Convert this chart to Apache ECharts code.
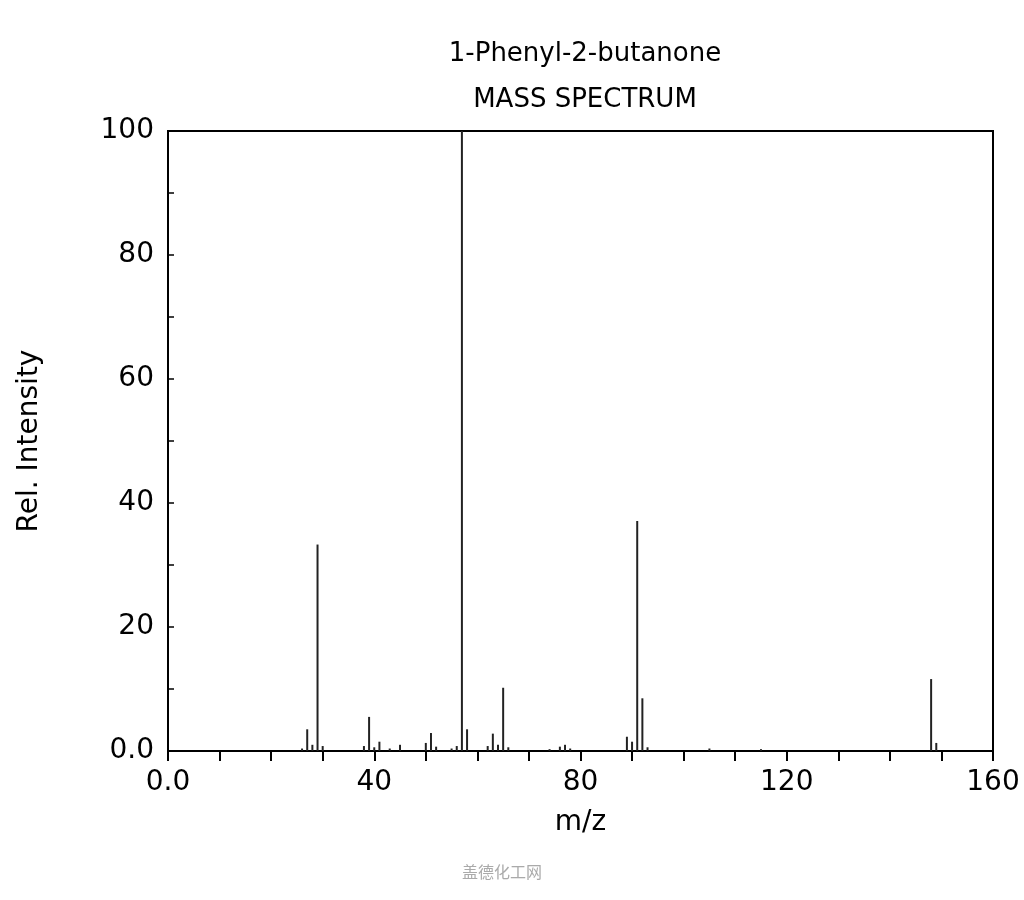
<!DOCTYPE html>
<html>
<head>
<meta charset="utf-8">
<script src="https://cdn.jsdelivr.net/npm/echarts@6/dist/echarts.min.js"></script>
<style>body{margin:0;background:#fff}#c{width:1024px;height:900px}</style>
</head>
<body>
<div id="c"></div>
<script>
var mz = [26, 27, 28, 29, 30, 38, 39, 40, 41, 43, 45, 50, 51, 52, 55, 56, 57, 58, 62, 63, 64, 65, 66, 74, 76, 77, 78, 89, 90, 91, 92, 93, 105, 115, 148, 149];
var intensity = [0.4, 3.5, 1.0, 33.3, 0.8, 0.8, 5.5, 0.6, 1.5, 0.4, 1.0, 1.3, 2.9, 0.7, 0.4, 0.8, 100, 3.5, 0.8, 2.8, 1.0, 10.2, 0.6, 0.3, 0.7, 1.0, 0.4, 2.3, 1.5, 37.1, 8.5, 0.6, 0.4, 0.3, 11.6, 1.3];
var xTicks = [0, 40, 80, 120, 160];

var myChart = echarts.init(document.getElementById('c'));
var pts = [];
for (var i = 0; i < mz.length; i++) pts.push([mz[i], intensity[i]]);

var option = {
    animation: false,
    title: {
        text: '1-Phenyl-2-butanone\nMASS SPECTRUM',
        left: 580, top: 26, textAlign: 'center',
        textStyle: { fontFamily: 'DejaVu Sans', fontWeight: 'normal', fontSize: 26, color: '#000', lineHeight: 46 }
    },
    grid: { left: 168, right: 31, top: 131, bottom: 149 },
    xAxis: {
        type: 'value', min: 0, max: 160, interval: 10,
        name: 'm/z', nameLocation: 'middle', nameGap: 58,
        nameTextStyle: { fontFamily: 'DejaVu Sans', fontSize: 28, color: '#000' },
        axisLine: { lineStyle: { color: '#000', width: 2 } },
        axisTick: { inside: false, length: 10, lineStyle: { color: '#000', width: 2 } },
        axisLabel: {
            fontFamily: 'DejaVu Sans', fontSize: 28, color: '#000', margin: 18,
            formatter: function (v) {
                if (xTicks.indexOf(v) < 0) return '';
                return v === 0 ? '0.0' : String(v);
            }
        },
        splitLine: { show: false }
    },
    yAxis: {
        type: 'value', min: 0, max: 100, interval: 10,
        name: 'Rel. Intensity', nameLocation: 'middle', nameGap: 124,
        nameTextStyle: { fontFamily: 'DejaVu Sans', fontSize: 28, color: '#000' },
        axisLine: { lineStyle: { color: '#000', width: 2 } },
        axisTick: { inside: true, length: 6, lineStyle: { color: '#000', width: 1.5 } },
        axisLabel: {
            fontFamily: 'DejaVu Sans', fontSize: 28, color: '#000', margin: 14,
            formatter: function (v) {
                if (v % 20 !== 0) return '';
                return v === 0 ? '0.0' : String(v);
            }
        },
        splitLine: { show: false }
    },
    graphic: [{
        type: 'rect', shape: { x: 168, y: 131, width: 825, height: 620 },
        style: { fill: 'none', stroke: '#000', lineWidth: 2 }, silent: true
    }, {
        type: 'text', left: 462, top: 864,
        style: { text: '盖德化工网', fill: '#aaa', font: '16px "Noto Sans CJK SC"' }
    }],
    series: [{
        type: 'bar', data: pts, barWidth: 2,
        itemStyle: { color: '#222' }
    }]
};
myChart.setOption(option);
</script>
</body>
</html>
